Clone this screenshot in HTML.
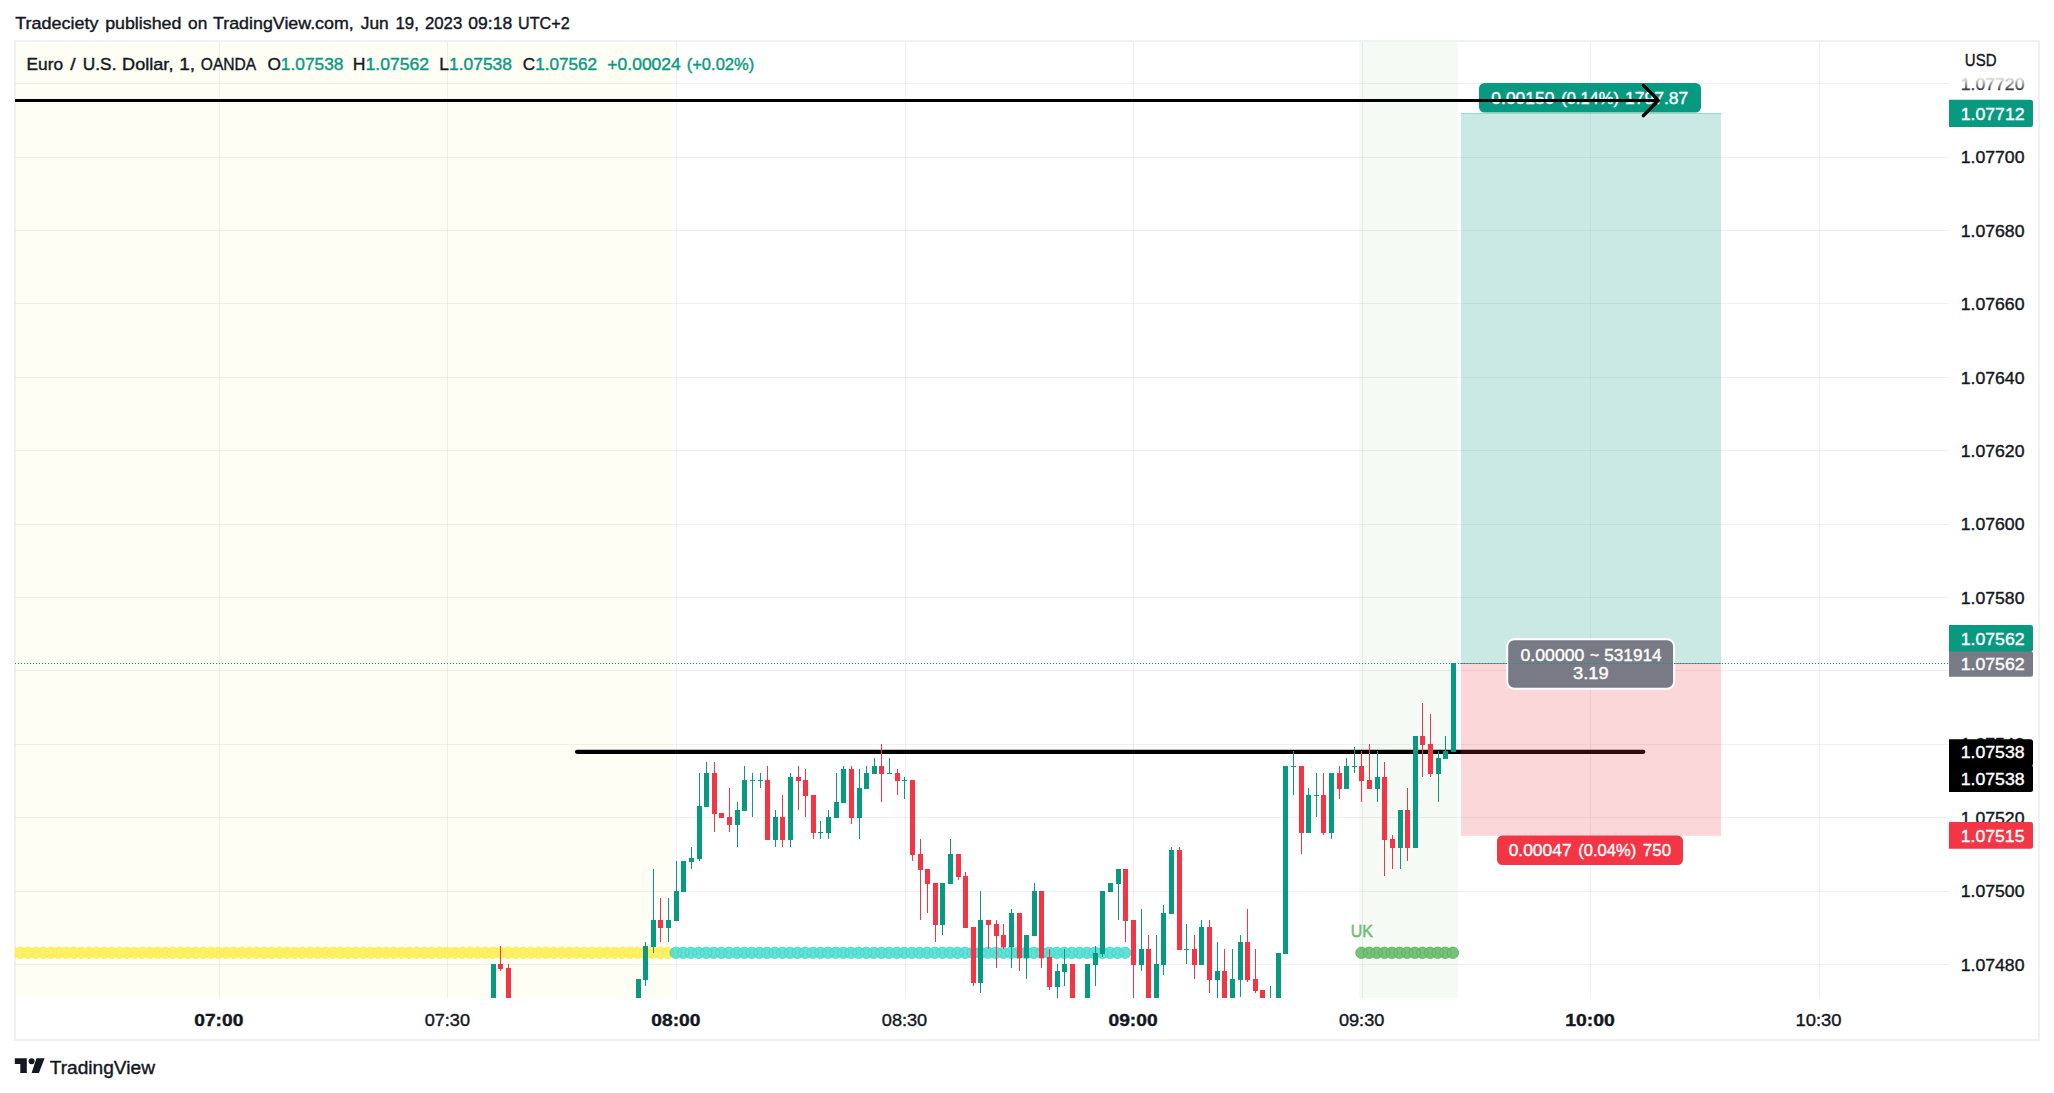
<!DOCTYPE html><html><head><meta charset="utf-8"><title>EURUSD chart</title>
<style>html,body{margin:0;padding:0;background:#fff;overflow:hidden;}svg{display:block;}text{font-family:"Liberation Sans", sans-serif;}</style></head><body>
<svg width="2054" height="1093" viewBox="0 0 2054 1093">
<defs><clipPath id="pane"><rect x="15" y="42" width="1934" height="956"/></clipPath>
<clipPath id="paneax"><rect x="15" y="42" width="2023" height="956"/></clipPath>
<linearGradient id="fade" x1="0" y1="0" x2="0" y2="1"><stop offset="0" stop-color="#fff" stop-opacity="1"/><stop offset="0.45" stop-color="#fff" stop-opacity="0.85"/><stop offset="1" stop-color="#fff" stop-opacity="0"/></linearGradient>
</defs>
<rect width="2054" height="1093" fill="#fff"/>
<rect x="15" y="41" width="2024" height="999" fill="none" stroke="#f0f1f4" stroke-width="2"/>
<g clip-path="url(#pane)">
<rect x="16" y="42" width="656.6" height="956" fill="#fffef5"/>
<rect x="1359" y="42" width="99" height="956" fill="#f5faf5"/>
<rect x="15" y="83" width="1934" height="1" fill="#2a2e39" fill-opacity="0.07"/>
<rect x="15" y="157" width="1934" height="1" fill="#2a2e39" fill-opacity="0.07"/>
<rect x="15" y="230" width="1934" height="1" fill="#2a2e39" fill-opacity="0.07"/>
<rect x="15" y="303" width="1934" height="1" fill="#2a2e39" fill-opacity="0.07"/>
<rect x="15" y="377" width="1934" height="1" fill="#2a2e39" fill-opacity="0.07"/>
<rect x="15" y="450" width="1934" height="1" fill="#2a2e39" fill-opacity="0.07"/>
<rect x="15" y="524" width="1934" height="1" fill="#2a2e39" fill-opacity="0.07"/>
<rect x="15" y="597" width="1934" height="1" fill="#2a2e39" fill-opacity="0.07"/>
<rect x="15" y="670" width="1934" height="1" fill="#2a2e39" fill-opacity="0.07"/>
<rect x="15" y="744" width="1934" height="1" fill="#2a2e39" fill-opacity="0.07"/>
<rect x="15" y="817" width="1934" height="1" fill="#2a2e39" fill-opacity="0.07"/>
<rect x="15" y="891" width="1934" height="1" fill="#2a2e39" fill-opacity="0.07"/>
<rect x="15" y="964" width="1934" height="1" fill="#2a2e39" fill-opacity="0.07"/>
<rect x="219" y="42" width="1" height="956" fill="#2a2e39" fill-opacity="0.07"/>
<rect x="447" y="42" width="1" height="956" fill="#2a2e39" fill-opacity="0.07"/>
<rect x="676" y="42" width="1" height="956" fill="#2a2e39" fill-opacity="0.07"/>
<rect x="905" y="42" width="1" height="956" fill="#2a2e39" fill-opacity="0.07"/>
<rect x="1133" y="42" width="1" height="956" fill="#2a2e39" fill-opacity="0.07"/>
<rect x="1362" y="42" width="1" height="956" fill="#2a2e39" fill-opacity="0.07"/>
<rect x="1590" y="42" width="1" height="956" fill="#2a2e39" fill-opacity="0.07"/>
<rect x="1819" y="42" width="1" height="956" fill="#2a2e39" fill-opacity="0.07"/>
<path d="M-0.58,952.8a5.75,5.75 0 1,0 11.5,0a5.75,5.75 0 1,0 -11.5,0zM7.04,952.8a5.75,5.75 0 1,0 11.5,0a5.75,5.75 0 1,0 -11.5,0zM14.66,952.8a5.75,5.75 0 1,0 11.5,0a5.75,5.75 0 1,0 -11.5,0zM22.28,952.8a5.75,5.75 0 1,0 11.5,0a5.75,5.75 0 1,0 -11.5,0zM29.90,952.8a5.75,5.75 0 1,0 11.5,0a5.75,5.75 0 1,0 -11.5,0zM37.51,952.8a5.75,5.75 0 1,0 11.5,0a5.75,5.75 0 1,0 -11.5,0zM45.13,952.8a5.75,5.75 0 1,0 11.5,0a5.75,5.75 0 1,0 -11.5,0zM52.75,952.8a5.75,5.75 0 1,0 11.5,0a5.75,5.75 0 1,0 -11.5,0zM60.37,952.8a5.75,5.75 0 1,0 11.5,0a5.75,5.75 0 1,0 -11.5,0zM67.99,952.8a5.75,5.75 0 1,0 11.5,0a5.75,5.75 0 1,0 -11.5,0zM75.61,952.8a5.75,5.75 0 1,0 11.5,0a5.75,5.75 0 1,0 -11.5,0zM83.23,952.8a5.75,5.75 0 1,0 11.5,0a5.75,5.75 0 1,0 -11.5,0zM90.85,952.8a5.75,5.75 0 1,0 11.5,0a5.75,5.75 0 1,0 -11.5,0zM98.47,952.8a5.75,5.75 0 1,0 11.5,0a5.75,5.75 0 1,0 -11.5,0zM106.09,952.8a5.75,5.75 0 1,0 11.5,0a5.75,5.75 0 1,0 -11.5,0zM113.71,952.8a5.75,5.75 0 1,0 11.5,0a5.75,5.75 0 1,0 -11.5,0zM121.33,952.8a5.75,5.75 0 1,0 11.5,0a5.75,5.75 0 1,0 -11.5,0zM128.95,952.8a5.75,5.75 0 1,0 11.5,0a5.75,5.75 0 1,0 -11.5,0zM136.57,952.8a5.75,5.75 0 1,0 11.5,0a5.75,5.75 0 1,0 -11.5,0zM144.19,952.8a5.75,5.75 0 1,0 11.5,0a5.75,5.75 0 1,0 -11.5,0zM151.81,952.8a5.75,5.75 0 1,0 11.5,0a5.75,5.75 0 1,0 -11.5,0zM159.43,952.8a5.75,5.75 0 1,0 11.5,0a5.75,5.75 0 1,0 -11.5,0zM167.05,952.8a5.75,5.75 0 1,0 11.5,0a5.75,5.75 0 1,0 -11.5,0zM174.67,952.8a5.75,5.75 0 1,0 11.5,0a5.75,5.75 0 1,0 -11.5,0zM182.29,952.8a5.75,5.75 0 1,0 11.5,0a5.75,5.75 0 1,0 -11.5,0zM189.91,952.8a5.75,5.75 0 1,0 11.5,0a5.75,5.75 0 1,0 -11.5,0zM197.53,952.8a5.75,5.75 0 1,0 11.5,0a5.75,5.75 0 1,0 -11.5,0zM205.15,952.8a5.75,5.75 0 1,0 11.5,0a5.75,5.75 0 1,0 -11.5,0zM212.77,952.8a5.75,5.75 0 1,0 11.5,0a5.75,5.75 0 1,0 -11.5,0zM220.39,952.8a5.75,5.75 0 1,0 11.5,0a5.75,5.75 0 1,0 -11.5,0zM228.01,952.8a5.75,5.75 0 1,0 11.5,0a5.75,5.75 0 1,0 -11.5,0zM235.63,952.8a5.75,5.75 0 1,0 11.5,0a5.75,5.75 0 1,0 -11.5,0zM243.25,952.8a5.75,5.75 0 1,0 11.5,0a5.75,5.75 0 1,0 -11.5,0zM250.87,952.8a5.75,5.75 0 1,0 11.5,0a5.75,5.75 0 1,0 -11.5,0zM258.49,952.8a5.75,5.75 0 1,0 11.5,0a5.75,5.75 0 1,0 -11.5,0zM266.11,952.8a5.75,5.75 0 1,0 11.5,0a5.75,5.75 0 1,0 -11.5,0zM273.73,952.8a5.75,5.75 0 1,0 11.5,0a5.75,5.75 0 1,0 -11.5,0zM281.35,952.8a5.75,5.75 0 1,0 11.5,0a5.75,5.75 0 1,0 -11.5,0zM288.97,952.8a5.75,5.75 0 1,0 11.5,0a5.75,5.75 0 1,0 -11.5,0zM296.58,952.8a5.75,5.75 0 1,0 11.5,0a5.75,5.75 0 1,0 -11.5,0zM304.20,952.8a5.75,5.75 0 1,0 11.5,0a5.75,5.75 0 1,0 -11.5,0zM311.82,952.8a5.75,5.75 0 1,0 11.5,0a5.75,5.75 0 1,0 -11.5,0zM319.44,952.8a5.75,5.75 0 1,0 11.5,0a5.75,5.75 0 1,0 -11.5,0zM327.06,952.8a5.75,5.75 0 1,0 11.5,0a5.75,5.75 0 1,0 -11.5,0zM334.68,952.8a5.75,5.75 0 1,0 11.5,0a5.75,5.75 0 1,0 -11.5,0zM342.30,952.8a5.75,5.75 0 1,0 11.5,0a5.75,5.75 0 1,0 -11.5,0zM349.92,952.8a5.75,5.75 0 1,0 11.5,0a5.75,5.75 0 1,0 -11.5,0zM357.54,952.8a5.75,5.75 0 1,0 11.5,0a5.75,5.75 0 1,0 -11.5,0zM365.16,952.8a5.75,5.75 0 1,0 11.5,0a5.75,5.75 0 1,0 -11.5,0zM372.78,952.8a5.75,5.75 0 1,0 11.5,0a5.75,5.75 0 1,0 -11.5,0zM380.40,952.8a5.75,5.75 0 1,0 11.5,0a5.75,5.75 0 1,0 -11.5,0zM388.02,952.8a5.75,5.75 0 1,0 11.5,0a5.75,5.75 0 1,0 -11.5,0zM395.64,952.8a5.75,5.75 0 1,0 11.5,0a5.75,5.75 0 1,0 -11.5,0zM403.26,952.8a5.75,5.75 0 1,0 11.5,0a5.75,5.75 0 1,0 -11.5,0zM410.88,952.8a5.75,5.75 0 1,0 11.5,0a5.75,5.75 0 1,0 -11.5,0zM418.50,952.8a5.75,5.75 0 1,0 11.5,0a5.75,5.75 0 1,0 -11.5,0zM426.12,952.8a5.75,5.75 0 1,0 11.5,0a5.75,5.75 0 1,0 -11.5,0zM433.74,952.8a5.75,5.75 0 1,0 11.5,0a5.75,5.75 0 1,0 -11.5,0zM441.36,952.8a5.75,5.75 0 1,0 11.5,0a5.75,5.75 0 1,0 -11.5,0zM448.98,952.8a5.75,5.75 0 1,0 11.5,0a5.75,5.75 0 1,0 -11.5,0zM456.60,952.8a5.75,5.75 0 1,0 11.5,0a5.75,5.75 0 1,0 -11.5,0zM464.22,952.8a5.75,5.75 0 1,0 11.5,0a5.75,5.75 0 1,0 -11.5,0zM471.84,952.8a5.75,5.75 0 1,0 11.5,0a5.75,5.75 0 1,0 -11.5,0zM479.46,952.8a5.75,5.75 0 1,0 11.5,0a5.75,5.75 0 1,0 -11.5,0zM487.08,952.8a5.75,5.75 0 1,0 11.5,0a5.75,5.75 0 1,0 -11.5,0zM494.70,952.8a5.75,5.75 0 1,0 11.5,0a5.75,5.75 0 1,0 -11.5,0zM502.32,952.8a5.75,5.75 0 1,0 11.5,0a5.75,5.75 0 1,0 -11.5,0zM509.94,952.8a5.75,5.75 0 1,0 11.5,0a5.75,5.75 0 1,0 -11.5,0zM517.56,952.8a5.75,5.75 0 1,0 11.5,0a5.75,5.75 0 1,0 -11.5,0zM525.18,952.8a5.75,5.75 0 1,0 11.5,0a5.75,5.75 0 1,0 -11.5,0zM532.80,952.8a5.75,5.75 0 1,0 11.5,0a5.75,5.75 0 1,0 -11.5,0zM540.42,952.8a5.75,5.75 0 1,0 11.5,0a5.75,5.75 0 1,0 -11.5,0zM548.03,952.8a5.75,5.75 0 1,0 11.5,0a5.75,5.75 0 1,0 -11.5,0zM555.65,952.8a5.75,5.75 0 1,0 11.5,0a5.75,5.75 0 1,0 -11.5,0zM563.27,952.8a5.75,5.75 0 1,0 11.5,0a5.75,5.75 0 1,0 -11.5,0zM570.89,952.8a5.75,5.75 0 1,0 11.5,0a5.75,5.75 0 1,0 -11.5,0zM578.51,952.8a5.75,5.75 0 1,0 11.5,0a5.75,5.75 0 1,0 -11.5,0zM586.13,952.8a5.75,5.75 0 1,0 11.5,0a5.75,5.75 0 1,0 -11.5,0zM593.75,952.8a5.75,5.75 0 1,0 11.5,0a5.75,5.75 0 1,0 -11.5,0zM601.37,952.8a5.75,5.75 0 1,0 11.5,0a5.75,5.75 0 1,0 -11.5,0zM608.99,952.8a5.75,5.75 0 1,0 11.5,0a5.75,5.75 0 1,0 -11.5,0zM616.61,952.8a5.75,5.75 0 1,0 11.5,0a5.75,5.75 0 1,0 -11.5,0zM624.23,952.8a5.75,5.75 0 1,0 11.5,0a5.75,5.75 0 1,0 -11.5,0zM631.85,952.8a5.75,5.75 0 1,0 11.5,0a5.75,5.75 0 1,0 -11.5,0zM639.47,952.8a5.75,5.75 0 1,0 11.5,0a5.75,5.75 0 1,0 -11.5,0zM647.09,952.8a5.75,5.75 0 1,0 11.5,0a5.75,5.75 0 1,0 -11.5,0zM654.71,952.8a5.75,5.75 0 1,0 11.5,0a5.75,5.75 0 1,0 -11.5,0zM662.33,952.8a5.75,5.75 0 1,0 11.5,0a5.75,5.75 0 1,0 -11.5,0z" fill="#ffeb3b" fill-opacity="0.75" stroke="#ffeb3b" stroke-opacity="0.7" stroke-width="1.0"/>
<path d="M669.95,952.8a5.75,5.75 0 1,0 11.5,0a5.75,5.75 0 1,0 -11.5,0zM677.57,952.8a5.75,5.75 0 1,0 11.5,0a5.75,5.75 0 1,0 -11.5,0zM685.19,952.8a5.75,5.75 0 1,0 11.5,0a5.75,5.75 0 1,0 -11.5,0zM692.81,952.8a5.75,5.75 0 1,0 11.5,0a5.75,5.75 0 1,0 -11.5,0zM700.43,952.8a5.75,5.75 0 1,0 11.5,0a5.75,5.75 0 1,0 -11.5,0zM708.05,952.8a5.75,5.75 0 1,0 11.5,0a5.75,5.75 0 1,0 -11.5,0zM715.67,952.8a5.75,5.75 0 1,0 11.5,0a5.75,5.75 0 1,0 -11.5,0zM723.29,952.8a5.75,5.75 0 1,0 11.5,0a5.75,5.75 0 1,0 -11.5,0zM730.91,952.8a5.75,5.75 0 1,0 11.5,0a5.75,5.75 0 1,0 -11.5,0zM738.53,952.8a5.75,5.75 0 1,0 11.5,0a5.75,5.75 0 1,0 -11.5,0zM746.15,952.8a5.75,5.75 0 1,0 11.5,0a5.75,5.75 0 1,0 -11.5,0zM753.77,952.8a5.75,5.75 0 1,0 11.5,0a5.75,5.75 0 1,0 -11.5,0zM761.39,952.8a5.75,5.75 0 1,0 11.5,0a5.75,5.75 0 1,0 -11.5,0zM769.01,952.8a5.75,5.75 0 1,0 11.5,0a5.75,5.75 0 1,0 -11.5,0zM776.63,952.8a5.75,5.75 0 1,0 11.5,0a5.75,5.75 0 1,0 -11.5,0zM784.25,952.8a5.75,5.75 0 1,0 11.5,0a5.75,5.75 0 1,0 -11.5,0zM791.87,952.8a5.75,5.75 0 1,0 11.5,0a5.75,5.75 0 1,0 -11.5,0zM799.48,952.8a5.75,5.75 0 1,0 11.5,0a5.75,5.75 0 1,0 -11.5,0zM807.10,952.8a5.75,5.75 0 1,0 11.5,0a5.75,5.75 0 1,0 -11.5,0zM814.72,952.8a5.75,5.75 0 1,0 11.5,0a5.75,5.75 0 1,0 -11.5,0zM822.34,952.8a5.75,5.75 0 1,0 11.5,0a5.75,5.75 0 1,0 -11.5,0zM829.96,952.8a5.75,5.75 0 1,0 11.5,0a5.75,5.75 0 1,0 -11.5,0zM837.58,952.8a5.75,5.75 0 1,0 11.5,0a5.75,5.75 0 1,0 -11.5,0zM845.20,952.8a5.75,5.75 0 1,0 11.5,0a5.75,5.75 0 1,0 -11.5,0zM852.82,952.8a5.75,5.75 0 1,0 11.5,0a5.75,5.75 0 1,0 -11.5,0zM860.44,952.8a5.75,5.75 0 1,0 11.5,0a5.75,5.75 0 1,0 -11.5,0zM868.06,952.8a5.75,5.75 0 1,0 11.5,0a5.75,5.75 0 1,0 -11.5,0zM875.68,952.8a5.75,5.75 0 1,0 11.5,0a5.75,5.75 0 1,0 -11.5,0zM883.30,952.8a5.75,5.75 0 1,0 11.5,0a5.75,5.75 0 1,0 -11.5,0zM890.92,952.8a5.75,5.75 0 1,0 11.5,0a5.75,5.75 0 1,0 -11.5,0zM898.54,952.8a5.75,5.75 0 1,0 11.5,0a5.75,5.75 0 1,0 -11.5,0zM906.16,952.8a5.75,5.75 0 1,0 11.5,0a5.75,5.75 0 1,0 -11.5,0zM913.78,952.8a5.75,5.75 0 1,0 11.5,0a5.75,5.75 0 1,0 -11.5,0zM921.40,952.8a5.75,5.75 0 1,0 11.5,0a5.75,5.75 0 1,0 -11.5,0zM929.02,952.8a5.75,5.75 0 1,0 11.5,0a5.75,5.75 0 1,0 -11.5,0zM936.64,952.8a5.75,5.75 0 1,0 11.5,0a5.75,5.75 0 1,0 -11.5,0zM944.26,952.8a5.75,5.75 0 1,0 11.5,0a5.75,5.75 0 1,0 -11.5,0zM951.88,952.8a5.75,5.75 0 1,0 11.5,0a5.75,5.75 0 1,0 -11.5,0zM959.50,952.8a5.75,5.75 0 1,0 11.5,0a5.75,5.75 0 1,0 -11.5,0zM967.12,952.8a5.75,5.75 0 1,0 11.5,0a5.75,5.75 0 1,0 -11.5,0zM974.74,952.8a5.75,5.75 0 1,0 11.5,0a5.75,5.75 0 1,0 -11.5,0zM982.36,952.8a5.75,5.75 0 1,0 11.5,0a5.75,5.75 0 1,0 -11.5,0zM989.98,952.8a5.75,5.75 0 1,0 11.5,0a5.75,5.75 0 1,0 -11.5,0zM997.60,952.8a5.75,5.75 0 1,0 11.5,0a5.75,5.75 0 1,0 -11.5,0zM1005.22,952.8a5.75,5.75 0 1,0 11.5,0a5.75,5.75 0 1,0 -11.5,0zM1012.84,952.8a5.75,5.75 0 1,0 11.5,0a5.75,5.75 0 1,0 -11.5,0zM1020.46,952.8a5.75,5.75 0 1,0 11.5,0a5.75,5.75 0 1,0 -11.5,0zM1028.08,952.8a5.75,5.75 0 1,0 11.5,0a5.75,5.75 0 1,0 -11.5,0zM1035.70,952.8a5.75,5.75 0 1,0 11.5,0a5.75,5.75 0 1,0 -11.5,0zM1043.32,952.8a5.75,5.75 0 1,0 11.5,0a5.75,5.75 0 1,0 -11.5,0zM1050.93,952.8a5.75,5.75 0 1,0 11.5,0a5.75,5.75 0 1,0 -11.5,0zM1058.55,952.8a5.75,5.75 0 1,0 11.5,0a5.75,5.75 0 1,0 -11.5,0zM1066.17,952.8a5.75,5.75 0 1,0 11.5,0a5.75,5.75 0 1,0 -11.5,0zM1073.79,952.8a5.75,5.75 0 1,0 11.5,0a5.75,5.75 0 1,0 -11.5,0zM1081.41,952.8a5.75,5.75 0 1,0 11.5,0a5.75,5.75 0 1,0 -11.5,0zM1089.03,952.8a5.75,5.75 0 1,0 11.5,0a5.75,5.75 0 1,0 -11.5,0zM1096.65,952.8a5.75,5.75 0 1,0 11.5,0a5.75,5.75 0 1,0 -11.5,0zM1104.27,952.8a5.75,5.75 0 1,0 11.5,0a5.75,5.75 0 1,0 -11.5,0zM1111.89,952.8a5.75,5.75 0 1,0 11.5,0a5.75,5.75 0 1,0 -11.5,0zM1119.51,952.8a5.75,5.75 0 1,0 11.5,0a5.75,5.75 0 1,0 -11.5,0z" fill="#30d6c8" fill-opacity="0.75" stroke="#30d6c8" stroke-opacity="0.7" stroke-width="1.0"/>
<path d="M1355.72,952.8a5.75,5.75 0 1,0 11.5,0a5.75,5.75 0 1,0 -11.5,0zM1363.34,952.8a5.75,5.75 0 1,0 11.5,0a5.75,5.75 0 1,0 -11.5,0zM1370.96,952.8a5.75,5.75 0 1,0 11.5,0a5.75,5.75 0 1,0 -11.5,0zM1378.58,952.8a5.75,5.75 0 1,0 11.5,0a5.75,5.75 0 1,0 -11.5,0zM1386.20,952.8a5.75,5.75 0 1,0 11.5,0a5.75,5.75 0 1,0 -11.5,0zM1393.82,952.8a5.75,5.75 0 1,0 11.5,0a5.75,5.75 0 1,0 -11.5,0zM1401.44,952.8a5.75,5.75 0 1,0 11.5,0a5.75,5.75 0 1,0 -11.5,0zM1409.06,952.8a5.75,5.75 0 1,0 11.5,0a5.75,5.75 0 1,0 -11.5,0zM1416.68,952.8a5.75,5.75 0 1,0 11.5,0a5.75,5.75 0 1,0 -11.5,0zM1424.30,952.8a5.75,5.75 0 1,0 11.5,0a5.75,5.75 0 1,0 -11.5,0zM1431.92,952.8a5.75,5.75 0 1,0 11.5,0a5.75,5.75 0 1,0 -11.5,0zM1439.54,952.8a5.75,5.75 0 1,0 11.5,0a5.75,5.75 0 1,0 -11.5,0zM1447.16,952.8a5.75,5.75 0 1,0 11.5,0a5.75,5.75 0 1,0 -11.5,0z" fill="#4caf50" fill-opacity="0.75" stroke="#4caf50" stroke-opacity="0.7" stroke-width="1.0"/>
<line x1="577" y1="751.8" x2="1643.3" y2="751.8" stroke="#000" stroke-width="4.2" stroke-linecap="round"/>
<line x1="15" y1="663.5" x2="1458" y2="663.5" stroke="#089981" stroke-width="1.1" stroke-dasharray="1.1 1.9"/>
<g shape-rendering="crispEdges">
<rect x="493" y="964" width="1" height="46" fill="#089981"/>
<rect x="491" y="964" width="5" height="46" fill="#089981"/>
<rect x="500" y="946" width="1" height="25" fill="#f23645"/>
<rect x="498" y="964" width="5" height="5" fill="#f23645"/>
<rect x="508" y="964" width="1" height="46" fill="#f23645"/>
<rect x="506" y="968" width="5" height="42" fill="#f23645"/>
<rect x="638" y="979" width="1" height="31" fill="#089981"/>
<rect x="636" y="979" width="5" height="31" fill="#089981"/>
<rect x="645" y="942" width="1" height="44" fill="#089981"/>
<rect x="643" y="946" width="5" height="34" fill="#089981"/>
<rect x="653" y="869" width="1" height="84" fill="#089981"/>
<rect x="651" y="920" width="5" height="27" fill="#089981"/>
<rect x="660" y="898" width="1" height="44" fill="#f23645"/>
<rect x="658" y="920" width="5" height="8" fill="#f23645"/>
<rect x="668" y="898" width="1" height="44" fill="#089981"/>
<rect x="666" y="920" width="5" height="8" fill="#089981"/>
<rect x="676" y="861" width="1" height="60" fill="#089981"/>
<rect x="674" y="891" width="5" height="30" fill="#089981"/>
<rect x="683" y="861" width="1" height="31" fill="#089981"/>
<rect x="681" y="861" width="5" height="31" fill="#089981"/>
<rect x="691" y="847" width="1" height="22" fill="#089981"/>
<rect x="689" y="858" width="5" height="4" fill="#089981"/>
<rect x="699" y="773" width="1" height="88" fill="#089981"/>
<rect x="697" y="806" width="5" height="53" fill="#089981"/>
<rect x="706" y="762" width="1" height="45" fill="#089981"/>
<rect x="704" y="773" width="5" height="34" fill="#089981"/>
<rect x="714" y="762" width="1" height="70" fill="#f23645"/>
<rect x="712" y="773" width="5" height="41" fill="#f23645"/>
<rect x="721" y="813" width="1" height="5" fill="#f23645"/>
<rect x="719" y="813" width="5" height="5" fill="#f23645"/>
<rect x="729" y="788" width="1" height="44" fill="#f23645"/>
<rect x="727" y="817" width="5" height="8" fill="#f23645"/>
<rect x="737" y="802" width="1" height="45" fill="#089981"/>
<rect x="735" y="810" width="5" height="15" fill="#089981"/>
<rect x="744" y="766" width="1" height="45" fill="#089981"/>
<rect x="742" y="780" width="5" height="31" fill="#089981"/>
<rect x="752" y="773" width="1" height="44" fill="#089981"/>
<rect x="750" y="780" width="5" height="1" fill="#089981"/>
<rect x="760" y="773" width="1" height="15" fill="#089981"/>
<rect x="758" y="780" width="5" height="1" fill="#089981"/>
<rect x="767" y="766" width="1" height="74" fill="#f23645"/>
<rect x="765" y="780" width="5" height="60" fill="#f23645"/>
<rect x="775" y="810" width="1" height="37" fill="#089981"/>
<rect x="773" y="817" width="5" height="23" fill="#089981"/>
<rect x="782" y="795" width="1" height="52" fill="#f23645"/>
<rect x="780" y="817" width="5" height="23" fill="#f23645"/>
<rect x="790" y="773" width="1" height="74" fill="#089981"/>
<rect x="788" y="777" width="5" height="63" fill="#089981"/>
<rect x="798" y="766" width="1" height="44" fill="#f23645"/>
<rect x="796" y="777" width="5" height="4" fill="#f23645"/>
<rect x="805" y="769" width="1" height="48" fill="#f23645"/>
<rect x="803" y="780" width="5" height="16" fill="#f23645"/>
<rect x="813" y="795" width="1" height="44" fill="#f23645"/>
<rect x="811" y="795" width="5" height="38" fill="#f23645"/>
<rect x="820" y="821" width="1" height="18" fill="#089981"/>
<rect x="818" y="832" width="5" height="1" fill="#089981"/>
<rect x="828" y="810" width="1" height="29" fill="#089981"/>
<rect x="826" y="817" width="5" height="16" fill="#089981"/>
<rect x="836" y="773" width="1" height="45" fill="#089981"/>
<rect x="834" y="802" width="5" height="16" fill="#089981"/>
<rect x="843" y="766" width="1" height="37" fill="#089981"/>
<rect x="841" y="769" width="5" height="34" fill="#089981"/>
<rect x="851" y="766" width="1" height="58" fill="#f23645"/>
<rect x="849" y="769" width="5" height="49" fill="#f23645"/>
<rect x="859" y="769" width="1" height="70" fill="#089981"/>
<rect x="857" y="788" width="5" height="30" fill="#089981"/>
<rect x="866" y="766" width="1" height="23" fill="#089981"/>
<rect x="864" y="773" width="5" height="16" fill="#089981"/>
<rect x="874" y="758" width="1" height="16" fill="#089981"/>
<rect x="872" y="766" width="5" height="8" fill="#089981"/>
<rect x="881" y="744" width="1" height="58" fill="#f23645"/>
<rect x="879" y="766" width="5" height="8" fill="#f23645"/>
<rect x="889" y="758" width="1" height="16" fill="#089981"/>
<rect x="887" y="773" width="5" height="1" fill="#089981"/>
<rect x="897" y="769" width="1" height="26" fill="#f23645"/>
<rect x="895" y="773" width="5" height="8" fill="#f23645"/>
<rect x="904" y="777" width="1" height="22" fill="#089981"/>
<rect x="902" y="780" width="5" height="1" fill="#089981"/>
<rect x="912" y="780" width="1" height="81" fill="#f23645"/>
<rect x="910" y="780" width="5" height="75" fill="#f23645"/>
<rect x="920" y="839" width="1" height="81" fill="#f23645"/>
<rect x="918" y="854" width="5" height="16" fill="#f23645"/>
<rect x="927" y="869" width="1" height="44" fill="#f23645"/>
<rect x="925" y="869" width="5" height="15" fill="#f23645"/>
<rect x="935" y="883" width="1" height="59" fill="#f23645"/>
<rect x="933" y="883" width="5" height="42" fill="#f23645"/>
<rect x="942" y="883" width="1" height="52" fill="#089981"/>
<rect x="940" y="883" width="5" height="42" fill="#089981"/>
<rect x="950" y="839" width="1" height="45" fill="#089981"/>
<rect x="948" y="854" width="5" height="30" fill="#089981"/>
<rect x="958" y="854" width="1" height="26" fill="#f23645"/>
<rect x="956" y="854" width="5" height="23" fill="#f23645"/>
<rect x="965" y="872" width="1" height="56" fill="#f23645"/>
<rect x="963" y="876" width="5" height="52" fill="#f23645"/>
<rect x="973" y="927" width="1" height="59" fill="#f23645"/>
<rect x="971" y="927" width="5" height="56" fill="#f23645"/>
<rect x="980" y="891" width="1" height="102" fill="#089981"/>
<rect x="978" y="920" width="5" height="63" fill="#089981"/>
<rect x="988" y="920" width="1" height="29" fill="#f23645"/>
<rect x="986" y="920" width="5" height="5" fill="#f23645"/>
<rect x="996" y="920" width="1" height="48" fill="#f23645"/>
<rect x="994" y="924" width="5" height="12" fill="#f23645"/>
<rect x="1003" y="924" width="1" height="25" fill="#f23645"/>
<rect x="1001" y="935" width="5" height="12" fill="#f23645"/>
<rect x="1011" y="909" width="1" height="59" fill="#089981"/>
<rect x="1009" y="913" width="5" height="34" fill="#089981"/>
<rect x="1019" y="913" width="1" height="58" fill="#f23645"/>
<rect x="1017" y="913" width="5" height="45" fill="#f23645"/>
<rect x="1026" y="935" width="1" height="44" fill="#089981"/>
<rect x="1024" y="935" width="5" height="23" fill="#089981"/>
<rect x="1034" y="883" width="1" height="53" fill="#089981"/>
<rect x="1032" y="891" width="5" height="45" fill="#089981"/>
<rect x="1041" y="891" width="1" height="77" fill="#f23645"/>
<rect x="1039" y="891" width="5" height="67" fill="#f23645"/>
<rect x="1049" y="949" width="1" height="41" fill="#f23645"/>
<rect x="1047" y="957" width="5" height="30" fill="#f23645"/>
<rect x="1057" y="964" width="1" height="46" fill="#089981"/>
<rect x="1055" y="971" width="5" height="16" fill="#089981"/>
<rect x="1064" y="949" width="1" height="37" fill="#089981"/>
<rect x="1062" y="964" width="5" height="8" fill="#089981"/>
<rect x="1072" y="964" width="1" height="46" fill="#f23645"/>
<rect x="1070" y="964" width="5" height="46" fill="#f23645"/>
<rect x="1087" y="964" width="1" height="46" fill="#089981"/>
<rect x="1085" y="964" width="5" height="46" fill="#089981"/>
<rect x="1095" y="946" width="1" height="40" fill="#089981"/>
<rect x="1093" y="953" width="5" height="12" fill="#089981"/>
<rect x="1102" y="891" width="1" height="66" fill="#089981"/>
<rect x="1100" y="891" width="5" height="63" fill="#089981"/>
<rect x="1110" y="883" width="1" height="9" fill="#089981"/>
<rect x="1108" y="883" width="5" height="9" fill="#089981"/>
<rect x="1118" y="869" width="1" height="51" fill="#089981"/>
<rect x="1116" y="869" width="5" height="15" fill="#089981"/>
<rect x="1125" y="869" width="1" height="73" fill="#f23645"/>
<rect x="1123" y="869" width="5" height="52" fill="#f23645"/>
<rect x="1133" y="920" width="1" height="90" fill="#f23645"/>
<rect x="1131" y="920" width="5" height="45" fill="#f23645"/>
<rect x="1141" y="909" width="1" height="62" fill="#089981"/>
<rect x="1139" y="949" width="5" height="16" fill="#089981"/>
<rect x="1148" y="935" width="1" height="75" fill="#f23645"/>
<rect x="1146" y="949" width="5" height="61" fill="#f23645"/>
<rect x="1156" y="935" width="1" height="75" fill="#089981"/>
<rect x="1154" y="964" width="5" height="46" fill="#089981"/>
<rect x="1163" y="905" width="1" height="70" fill="#089981"/>
<rect x="1161" y="913" width="5" height="52" fill="#089981"/>
<rect x="1171" y="847" width="1" height="67" fill="#089981"/>
<rect x="1169" y="850" width="5" height="64" fill="#089981"/>
<rect x="1179" y="847" width="1" height="103" fill="#f23645"/>
<rect x="1177" y="850" width="5" height="100" fill="#f23645"/>
<rect x="1186" y="924" width="1" height="40" fill="#089981"/>
<rect x="1184" y="949" width="5" height="1" fill="#089981"/>
<rect x="1194" y="935" width="1" height="44" fill="#f23645"/>
<rect x="1192" y="949" width="5" height="16" fill="#f23645"/>
<rect x="1201" y="920" width="1" height="45" fill="#089981"/>
<rect x="1199" y="927" width="5" height="38" fill="#089981"/>
<rect x="1209" y="920" width="1" height="73" fill="#f23645"/>
<rect x="1207" y="927" width="5" height="53" fill="#f23645"/>
<rect x="1217" y="942" width="1" height="68" fill="#089981"/>
<rect x="1215" y="971" width="5" height="9" fill="#089981"/>
<rect x="1224" y="949" width="1" height="61" fill="#f23645"/>
<rect x="1222" y="971" width="5" height="39" fill="#f23645"/>
<rect x="1232" y="949" width="1" height="61" fill="#089981"/>
<rect x="1230" y="979" width="5" height="31" fill="#089981"/>
<rect x="1240" y="935" width="1" height="62" fill="#089981"/>
<rect x="1238" y="942" width="5" height="38" fill="#089981"/>
<rect x="1247" y="909" width="1" height="73" fill="#f23645"/>
<rect x="1245" y="942" width="5" height="38" fill="#f23645"/>
<rect x="1255" y="949" width="1" height="44" fill="#f23645"/>
<rect x="1253" y="979" width="5" height="12" fill="#f23645"/>
<rect x="1262" y="990" width="1" height="20" fill="#f23645"/>
<rect x="1260" y="990" width="5" height="20" fill="#f23645"/>
<rect x="1270" y="986" width="1" height="24" fill="#089981"/>
<rect x="1268" y="1004" width="5" height="6" fill="#089981"/>
<rect x="1278" y="953" width="1" height="57" fill="#089981"/>
<rect x="1276" y="953" width="5" height="57" fill="#089981"/>
<rect x="1285" y="766" width="1" height="188" fill="#089981"/>
<rect x="1283" y="766" width="5" height="188" fill="#089981"/>
<rect x="1293" y="751" width="1" height="44" fill="#089981"/>
<rect x="1291" y="766" width="5" height="1" fill="#089981"/>
<rect x="1301" y="766" width="1" height="88" fill="#f23645"/>
<rect x="1299" y="766" width="5" height="67" fill="#f23645"/>
<rect x="1308" y="788" width="1" height="45" fill="#089981"/>
<rect x="1306" y="795" width="5" height="38" fill="#089981"/>
<rect x="1316" y="773" width="1" height="44" fill="#089981"/>
<rect x="1314" y="795" width="5" height="1" fill="#089981"/>
<rect x="1323" y="773" width="1" height="62" fill="#f23645"/>
<rect x="1321" y="795" width="5" height="38" fill="#f23645"/>
<rect x="1331" y="773" width="1" height="66" fill="#089981"/>
<rect x="1329" y="773" width="5" height="60" fill="#089981"/>
<rect x="1339" y="766" width="1" height="33" fill="#f23645"/>
<rect x="1337" y="773" width="5" height="16" fill="#f23645"/>
<rect x="1346" y="758" width="1" height="31" fill="#089981"/>
<rect x="1344" y="766" width="5" height="23" fill="#089981"/>
<rect x="1354" y="747" width="1" height="26" fill="#089981"/>
<rect x="1352" y="766" width="5" height="1" fill="#089981"/>
<rect x="1361" y="751" width="1" height="51" fill="#f23645"/>
<rect x="1359" y="766" width="5" height="15" fill="#f23645"/>
<rect x="1369" y="744" width="1" height="45" fill="#f23645"/>
<rect x="1367" y="780" width="5" height="9" fill="#f23645"/>
<rect x="1377" y="751" width="1" height="51" fill="#089981"/>
<rect x="1375" y="777" width="5" height="12" fill="#089981"/>
<rect x="1384" y="762" width="1" height="114" fill="#f23645"/>
<rect x="1382" y="777" width="5" height="63" fill="#f23645"/>
<rect x="1392" y="835" width="1" height="34" fill="#f23645"/>
<rect x="1390" y="839" width="5" height="9" fill="#f23645"/>
<rect x="1400" y="810" width="1" height="59" fill="#089981"/>
<rect x="1398" y="810" width="5" height="38" fill="#089981"/>
<rect x="1407" y="788" width="1" height="73" fill="#f23645"/>
<rect x="1405" y="810" width="5" height="38" fill="#f23645"/>
<rect x="1415" y="736" width="1" height="112" fill="#089981"/>
<rect x="1413" y="736" width="5" height="112" fill="#089981"/>
<rect x="1422" y="703" width="1" height="74" fill="#f23645"/>
<rect x="1420" y="736" width="5" height="9" fill="#f23645"/>
<rect x="1430" y="714" width="1" height="63" fill="#f23645"/>
<rect x="1428" y="744" width="5" height="30" fill="#f23645"/>
<rect x="1438" y="751" width="1" height="51" fill="#089981"/>
<rect x="1436" y="758" width="5" height="16" fill="#089981"/>
<rect x="1445" y="736" width="1" height="23" fill="#089981"/>
<rect x="1443" y="751" width="5" height="8" fill="#089981"/>
<rect x="1453" y="663" width="1" height="89" fill="#089981"/>
<rect x="1451" y="663" width="5" height="89" fill="#089981"/>
</g>
<rect x="1461" y="113" width="260" height="550.5" fill="#089981" fill-opacity="0.21"/>
<rect x="1461" y="663.5" width="260" height="172.3" fill="#f23645" fill-opacity="0.2"/>
<rect x="1461" y="113" width="260" height="1" fill="#089981" fill-opacity="0.25"/>
<rect x="1460" y="663" width="261" height="1" fill="#787b86" fill-opacity="0.85"/>
</g>
<rect x="1479" y="83" width="222" height="29.6" rx="5.5" fill="#089981"/>
<rect x="1497" y="835.4" width="186" height="29.6" rx="5.5" fill="#f23645"/>
<rect x="1507.2" y="639.3" width="166.9" height="49.5" rx="7" fill="#787b86" stroke="#fff" stroke-width="2"/>
<line x1="1458" y1="663.5" x2="1949" y2="663.5" stroke="#089981" stroke-width="1.1" stroke-dasharray="1.1 1.9"/>
<line x1="15" y1="100.5" x2="1657.5" y2="100.5" stroke="#000" stroke-width="3.1"/>
<polyline points="1643.3,85.3 1658.4,100.5 1643.3,115.7" fill="none" stroke="#000" stroke-width="3.0" stroke-linecap="round" stroke-linejoin="miter"/>
<text transform="translate(1491.35,104.30) scale(1.0024,1)" font-size="17.4" fill="#fff" stroke="#fff" stroke-width="0.4" font-weight="normal">0.00150</text>
<text transform="translate(1561.17,104.30) scale(0.9495,1)" font-size="17.4" fill="#fff" stroke="#fff" stroke-width="0.4" font-weight="normal">(0.14%)</text>
<text transform="translate(1625.09,104.30) scale(1.0045,1)" font-size="17.4" fill="#fff" stroke="#fff" stroke-width="0.4" font-weight="normal">1797.87</text>
<text transform="translate(1520.54,660.50) scale(1.0154,1)" font-size="17.4" fill="#fff" stroke="#fff" stroke-width="0.4" font-weight="normal">0.00000</text>
<text transform="translate(1589.90,660.50) scale(0.8940,1)" font-size="17.4" fill="#fff" stroke="#fff" stroke-width="0.4" font-weight="normal">~</text>
<text transform="translate(1604.21,660.50) scale(0.9885,1)" font-size="17.4" fill="#fff" stroke="#fff" stroke-width="0.4" font-weight="normal">531914</text>
<text transform="translate(1573.12,678.70) scale(1.0491,1)" font-size="17.4" fill="#fff" stroke="#fff" stroke-width="0.4" font-weight="normal">3.19</text>
<text transform="translate(1508.65,856.20) scale(1.0020,1)" font-size="17.4" fill="#fff" stroke="#fff" stroke-width="0.4" font-weight="normal">0.00047</text>
<text transform="translate(1578.26,856.20) scale(0.9529,1)" font-size="17.4" fill="#fff" stroke="#fff" stroke-width="0.4" font-weight="normal">(0.04%)</text>
<text transform="translate(1642.86,856.20) scale(0.9712,1)" font-size="17.4" fill="#fff" stroke="#fff" stroke-width="0.4" font-weight="normal">750</text>
<line x1="1470" y1="100.5" x2="1657.5" y2="100.5" stroke="#000" stroke-width="3.1"/>
<polyline points="1643.3,85.3 1658.4,100.5 1643.3,115.7" fill="none" stroke="#000" stroke-width="3.0" stroke-linecap="round"/>
<text transform="translate(1350.76,936.70) scale(0.9195,1)" font-size="17.4" fill="#4caf50" stroke="#4caf50" stroke-width="0.4" font-weight="normal" fill-opacity="0.75">UK</text>
<text transform="translate(15.20,28.90) scale(1.0340,1)" font-size="17.4" fill="#131722" stroke="#131722" stroke-width="0.4" font-weight="normal">Tradeciety</text>
<text transform="translate(105.14,28.90) scale(1.0242,1)" font-size="17.4" fill="#131722" stroke="#131722" stroke-width="0.4" font-weight="normal">published</text>
<text transform="translate(188.07,28.90) scale(0.9893,1)" font-size="17.4" fill="#131722" stroke="#131722" stroke-width="0.4" font-weight="normal">on</text>
<text transform="translate(213.00,28.90) scale(1.0261,1)" font-size="17.4" fill="#131722" stroke="#131722" stroke-width="0.4" font-weight="normal">TradingView.com,</text>
<text transform="translate(360.84,28.90) scale(0.9938,1)" font-size="17.4" fill="#131722" stroke="#131722" stroke-width="0.4" font-weight="normal">Jun</text>
<text transform="translate(395.44,28.90) scale(0.9665,1)" font-size="17.4" fill="#131722" stroke="#131722" stroke-width="0.4" font-weight="normal">19,</text>
<text transform="translate(424.96,28.90) scale(0.9633,1)" font-size="17.4" fill="#131722" stroke="#131722" stroke-width="0.4" font-weight="normal">2023</text>
<text transform="translate(468.34,28.90) scale(1.0059,1)" font-size="17.4" fill="#131722" stroke="#131722" stroke-width="0.4" font-weight="normal">09:18</text>
<text transform="translate(518.05,28.90) scale(0.9285,1)" font-size="17.4" fill="#131722" stroke="#131722" stroke-width="0.4" font-weight="normal">UTC+2</text>
<text transform="translate(26.52,69.80) scale(0.9933,1)" font-size="17.4" fill="#131722" stroke="#131722" stroke-width="0.4" font-weight="normal">Euro</text>
<text transform="translate(70.30,69.80) scale(1.1184,1)" font-size="17.4" fill="#131722" stroke="#131722" stroke-width="0.4" font-weight="normal">/</text>
<text transform="translate(82.86,69.80) scale(0.9926,1)" font-size="17.4" fill="#131722" stroke="#131722" stroke-width="0.4" font-weight="normal">U.S.</text>
<text transform="translate(122.11,69.80) scale(1.0404,1)" font-size="17.4" fill="#131722" stroke="#131722" stroke-width="0.4" font-weight="normal">Dollar,</text>
<text transform="translate(179.17,69.80) scale(1.0935,1)" font-size="17.4" fill="#131722" stroke="#131722" stroke-width="0.4" font-weight="normal">1,</text>
<text transform="translate(200.76,69.80) scale(0.8963,1)" font-size="17.4" fill="#131722" stroke="#131722" stroke-width="0.4" font-weight="normal">OANDA</text>
<text transform="translate(267.38,69.80) scale(0.9965,1)" font-size="17.4" fill="#131722" stroke="#131722" stroke-width="0.4" font-weight="normal">O<tspan fill="#089981" stroke="#089981">1.07538</tspan></text>
<text transform="translate(352.75,69.80) scale(1.0128,1)" font-size="17.4" fill="#131722" stroke="#131722" stroke-width="0.4" font-weight="normal">H<tspan fill="#089981" stroke="#089981">1.07562</tspan></text>
<text transform="translate(439.26,69.80) scale(1.0031,1)" font-size="17.4" fill="#131722" stroke="#131722" stroke-width="0.4" font-weight="normal">L<tspan fill="#089981" stroke="#089981">1.07538</tspan></text>
<text transform="translate(522.84,69.80) scale(0.9846,1)" font-size="17.4" fill="#131722" stroke="#131722" stroke-width="0.4" font-weight="normal">C<tspan fill="#089981" stroke="#089981">1.07562</tspan></text>
<text transform="translate(607.37,69.80) scale(1.0051,1)" font-size="17.4" fill="#089981" stroke="#089981" stroke-width="0.4" font-weight="normal">+0.00024</text>
<text transform="translate(686.67,69.80) scale(0.9514,1)" font-size="17.4" fill="#089981" stroke="#089981" stroke-width="0.4" font-weight="normal">(+0.02%)</text>
<text transform="translate(1964.84,66.20) scale(0.8717,1)" font-size="17.2" fill="#131722" stroke="#131722" stroke-width="0.4" font-weight="normal">USD</text>
<text transform="translate(1960.68,90.00) scale(1.0148,1)" font-size="17.4" fill="#131722" stroke="#131722" stroke-width="0.4" font-weight="normal">1.07720</text>
<text transform="translate(1960.68,163.00) scale(1.0148,1)" font-size="17.4" fill="#131722" stroke="#131722" stroke-width="0.4" font-weight="normal">1.07700</text>
<text transform="translate(1960.68,237.00) scale(1.0148,1)" font-size="17.4" fill="#131722" stroke="#131722" stroke-width="0.4" font-weight="normal">1.07680</text>
<text transform="translate(1960.68,310.00) scale(1.0148,1)" font-size="17.4" fill="#131722" stroke="#131722" stroke-width="0.4" font-weight="normal">1.07660</text>
<text transform="translate(1960.68,384.00) scale(1.0148,1)" font-size="17.4" fill="#131722" stroke="#131722" stroke-width="0.4" font-weight="normal">1.07640</text>
<text transform="translate(1960.68,457.00) scale(1.0148,1)" font-size="17.4" fill="#131722" stroke="#131722" stroke-width="0.4" font-weight="normal">1.07620</text>
<text transform="translate(1960.68,530.00) scale(1.0148,1)" font-size="17.4" fill="#131722" stroke="#131722" stroke-width="0.4" font-weight="normal">1.07600</text>
<text transform="translate(1960.68,604.00) scale(1.0148,1)" font-size="17.4" fill="#131722" stroke="#131722" stroke-width="0.4" font-weight="normal">1.07580</text>
<text transform="translate(1960.68,750.00) scale(1.0148,1)" font-size="17.4" fill="#131722" stroke="#131722" stroke-width="0.4" font-weight="normal">1.07540</text>
<text transform="translate(1960.68,824.00) scale(1.0148,1)" font-size="17.4" fill="#131722" stroke="#131722" stroke-width="0.4" font-weight="normal">1.07520</text>
<text transform="translate(1960.68,897.00) scale(1.0148,1)" font-size="17.4" fill="#131722" stroke="#131722" stroke-width="0.4" font-weight="normal">1.07500</text>
<text transform="translate(1960.68,971.00) scale(1.0148,1)" font-size="17.4" fill="#131722" stroke="#131722" stroke-width="0.4" font-weight="normal">1.07480</text>
<rect x="1950" y="68" width="86" height="24" fill="url(#fade)"/>
<path d="M1949,99.8 H2030.5 a2.5,2.5 0 0 1 2.5,2.5 V124.5 a2.5,2.5 0 0 1 -2.5,2.5 H1949 Z" fill="#089981"/>
<text transform="translate(1960.67,119.60) scale(1.0177,1)" font-size="17.4" fill="#fff" stroke="#fff" stroke-width="0.4" font-weight="normal">1.07712</text>
<path d="M1949,651 H2030.5 a2.5,2.5 0 0 1 2.5,2.5 V674.3 a2.5,2.5 0 0 1 -2.5,2.5 H1949 Z" fill="#787b86"/>
<text transform="translate(1960.67,669.90) scale(1.0177,1)" font-size="17.4" fill="#fff" stroke="#fff" stroke-width="0.4" font-weight="normal">1.07562</text>
<path d="M1949,625 H2030.5 a2.5,2.5 0 0 1 2.5,2.5 V649.1 a2.5,2.5 0 0 1 -2.5,2.5 H1949 Z" fill="#089981"/>
<text transform="translate(1960.67,644.80) scale(1.0177,1)" font-size="17.4" fill="#fff" stroke="#fff" stroke-width="0.4" font-weight="normal">1.07562</text>
<path d="M1949,739.2 H2030.5 a2.5,2.5 0 0 1 2.5,2.5 V763.5 a2.5,2.5 0 0 1 -2.5,2.5 H1949 Z" fill="#000"/>
<text transform="translate(1960.67,758.40) scale(1.0162,1)" font-size="17.4" fill="#fff" stroke="#fff" stroke-width="0.4" font-weight="normal">1.07538</text>
<path d="M1949,765 H2030.5 a2.5,2.5 0 0 1 2.5,2.5 V789.4 a2.5,2.5 0 0 1 -2.5,2.5 H1949 Z" fill="#000"/>
<text transform="translate(1960.67,784.70) scale(1.0162,1)" font-size="17.4" fill="#fff" stroke="#fff" stroke-width="0.4" font-weight="normal">1.07538</text>
<path d="M1949,822.1 H2030.5 a2.5,2.5 0 0 1 2.5,2.5 V846.2 a2.5,2.5 0 0 1 -2.5,2.5 H1949 Z" fill="#f23645"/>
<text transform="translate(1960.67,841.70) scale(1.0155,1)" font-size="17.4" fill="#fff" stroke="#fff" stroke-width="0.4" font-weight="normal">1.07515</text>
<text transform="translate(194.23,1025.80) scale(1.1042,1)" font-size="17.4" fill="#131722" stroke="#131722" stroke-width="0.4" font-weight="bold">07:00</text>
<text transform="translate(424.69,1025.80) scale(1.0417,1)" font-size="17.4" fill="#131722" stroke="#131722" stroke-width="0.4" font-weight="normal">07:30</text>
<text transform="translate(651.37,1025.80) scale(1.1042,1)" font-size="17.4" fill="#131722" stroke="#131722" stroke-width="0.4" font-weight="bold">08:00</text>
<text transform="translate(881.83,1025.80) scale(1.0417,1)" font-size="17.4" fill="#131722" stroke="#131722" stroke-width="0.4" font-weight="normal">08:30</text>
<text transform="translate(1108.51,1025.80) scale(1.1042,1)" font-size="17.4" fill="#131722" stroke="#131722" stroke-width="0.4" font-weight="bold">09:00</text>
<text transform="translate(1338.97,1025.80) scale(1.0417,1)" font-size="17.4" fill="#131722" stroke="#131722" stroke-width="0.4" font-weight="normal">09:30</text>
<text transform="translate(1565.21,1025.80) scale(1.1143,1)" font-size="17.4" fill="#131722" stroke="#131722" stroke-width="0.4" font-weight="bold">10:00</text>
<text transform="translate(1795.41,1025.80) scale(1.0580,1)" font-size="17.4" fill="#131722" stroke="#131722" stroke-width="0.4" font-weight="normal">10:30</text>
<g fill="#131722">
<path d="M14.8,1058.2 H26.8 V1072.9 H20.3 V1063.9 H14.8 Z"/>
<circle cx="31.6" cy="1061.3" r="3"/>
<path d="M36.5,1058.2 H44.6 L38.9,1072.9 H31.6 Z"/>
</g>
<text transform="translate(49.67,1073.60) scale(1.0027,1)" font-size="19.1" fill="#131722" stroke="#131722" stroke-width="0.4" font-weight="normal">TradingView</text>
</svg></body></html>
